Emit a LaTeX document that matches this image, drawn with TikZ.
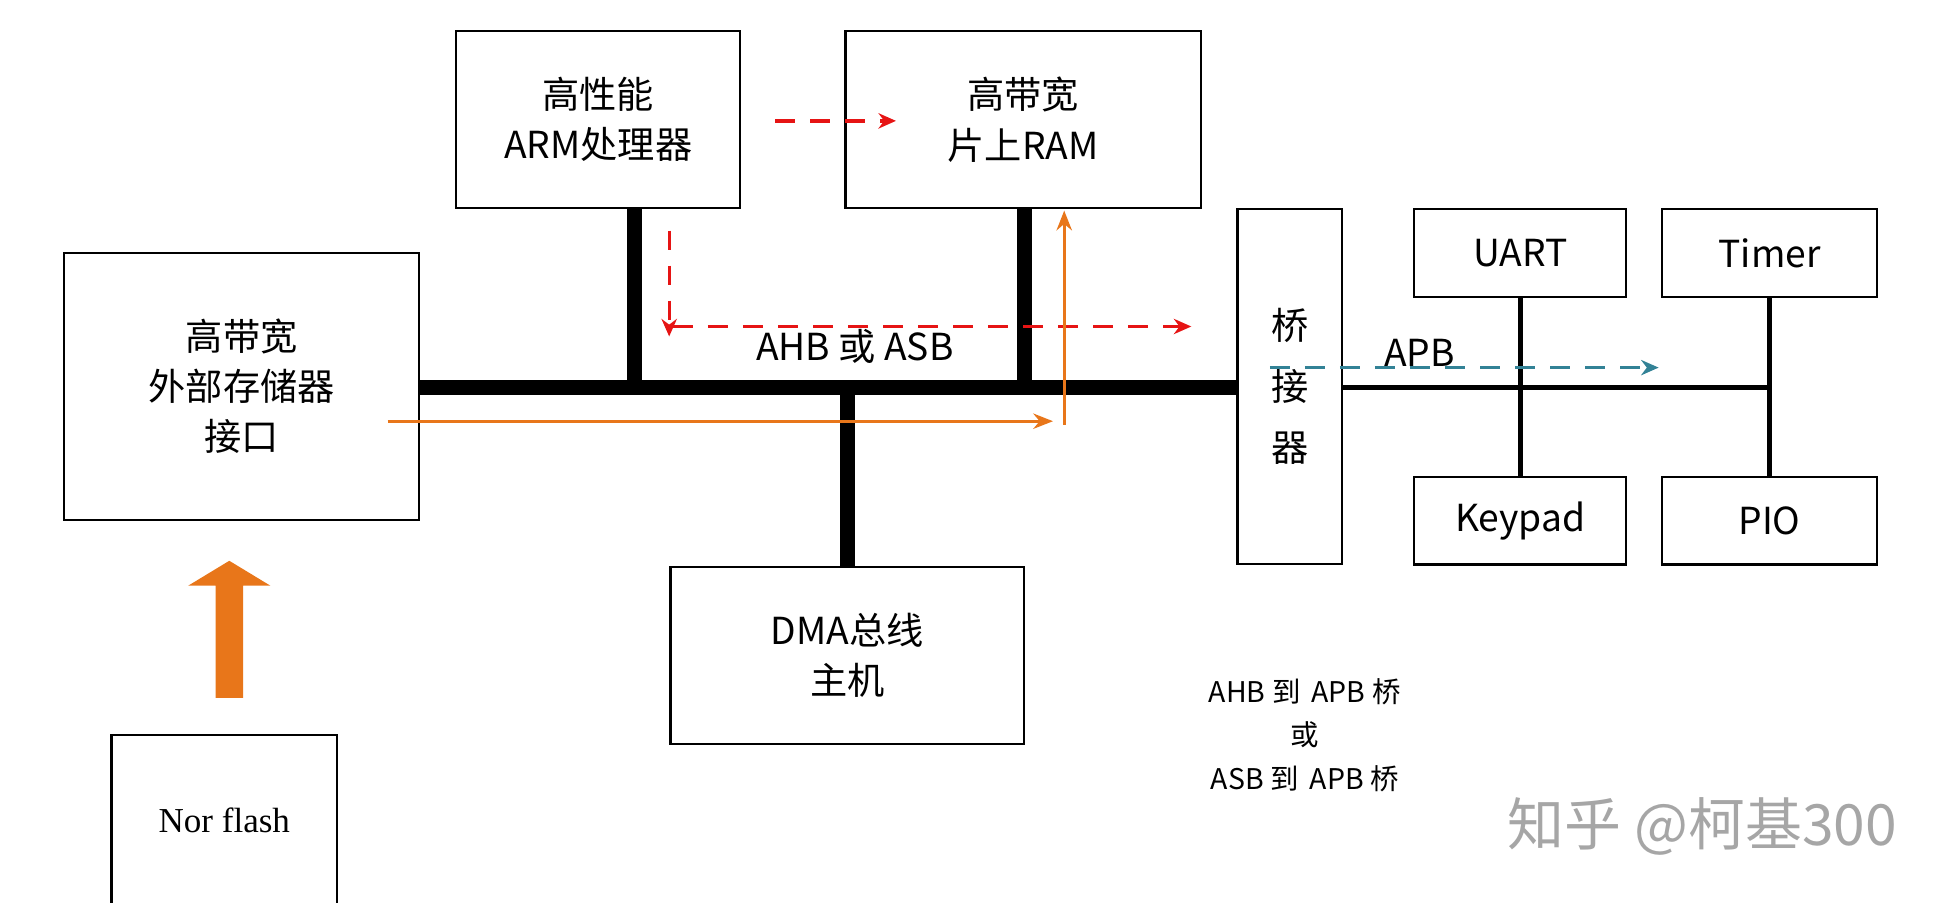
\documentclass[tikz,border=0pt]{standalone}
\usepackage{fontspec}
\setmainfont{Noto Sans CJK SC}
\newfontfamily\serifnor{Liberation Serif}
\usetikzlibrary{arrows.meta}
\definecolor{myorange}{RGB}{232,118,26}
\definecolor{myred}{RGB}{230,20,20}
\definecolor{myteal}{RGB}{50,130,150}
\begin{document}
\begin{tikzpicture}[x=0.02cm,y=-0.02cm,
  box/.style={draw,line width=1pt,inner sep=0pt,align=center,font=\fontsize{17}{23}\selectfont},
  bus/.style={line width=7pt},
  apb/.style={line width=2.5pt},
  reddash/.style={myred,line width=1.5pt,dash pattern=on 9pt off 7pt,-{Stealth[length=8pt,width=7pt]}},
  tealdash/.style={myteal,line width=1.5pt,dash pattern=on 9pt off 7pt,-{Stealth[length=8pt,width=7pt]}},
  orarr/.style={myorange,line width=1.5pt,-{Stealth[length=9pt,width=7pt]}}]
\useasboundingbox (0,0) rectangle (1560,724);
\node[box,minimum width=228*0.02cm,minimum height=142*0.02cm] (arm) at (480,96) {高性能\\ARM处理器};
\node[box,minimum width=285*0.02cm,minimum height=142*0.02cm] (ram) at (821,96) {高带宽\\片上RAM};
\node[box,minimum width=285*0.02cm,minimum height=214*0.02cm] (ext) at (194,310) {高带宽\\外部存储器\\接口};
\node[box,minimum width=84*0.02cm,minimum height=285*0.02cm,font=\fontsize{17}{28}\selectfont] (br) at (1035,310) {桥\\接\\器};
\node[box,minimum width=170*0.02cm,minimum height=71*0.02cm] (uart) at (1220,203) {UART};
\node[box,minimum width=172*0.02cm,minimum height=71*0.02cm] (timer) at (1420,203) {Timer};
\node[box,minimum width=170*0.02cm,minimum height=70*0.02cm] (key) at (1220,418) {Keypad};
\node[box,minimum width=172*0.02cm,minimum height=70*0.02cm] (pio) at (1420,418) {PIO};
\node[box,minimum width=284*0.02cm,minimum height=142*0.02cm] (dma) at (680,526) {DMA总线\\主机};
\node[box,minimum width=181*0.02cm,minimum height=136*0.02cm,font=\serifnor\fontsize{16}{18}\selectfont] (nor) at (180,658) {Nor flash};
% AHB bus
\coordinate (a1) at (338,311); \coordinate (a2) at (995,311);
\draw[bus] (ext.east|-a1) -- (br.west|-a2);
\draw[bus] (arm.south-|509,0) -- (509,311);
\draw[bus] (ram.south-|822,0) -- (822,311);
\draw[bus] (680,311) -- (dma.north-|680,0);
% APB
\draw[apb] (br.east|-a2) -- (1420,311);
\draw[apb] (uart.south-|1220,0) -- (key.north-|1220,0);
\draw[apb] (timer.south-|1420,0) -- (pio.north-|1420,0);
\node[font=\fontsize{17}{20}\selectfont] (ahbl) at (686,278) {AHB 或 ASB};
\node[font=\fontsize{17}{20}\selectfont] (apbl) at (1139,283) {APB};
% red
\coordinate (r1) at (622,97); \coordinate (r2) at (719,97);
\draw[reddash] (r1) -- (r2);
\coordinate (r3) at (537,185); \coordinate (r4) at (537,270);
\draw[reddash] (r3) -- (r4);
\coordinate (r5) at (540,262); \coordinate (r6) at (956,262);
\draw[reddash] (r5) -- (r6);
% teal
\coordinate (t1) at (1019,295); \coordinate (t2) at (1331,295);
\draw[tealdash] (t1) -- (t2);
% orange
\coordinate (o1) at (311,338); \coordinate (o2) at (845,338);
\draw[orarr] (o1) -- (o2);
\coordinate (o3) at (854,341); \coordinate (o4) at (854,169);
\draw[orarr] (o3) -- (o4);
\fill[myorange] (173,560) -- (195,560) -- (195,470) -- (217,470) -- (184,450) -- (151,470) -- (173,470) -- cycle;
\node[align=center,font=\fontsize{13}{20}\selectfont] (note) at (1047,590) {AHB 到 \,APB 桥\\或\\ASB 到 \,APB 桥};
\node[text=black!35,font=\fontsize{26}{30}\selectfont] (wm) at (1366,663) {知乎 @柯基300};
\end{tikzpicture}
\end{document}
